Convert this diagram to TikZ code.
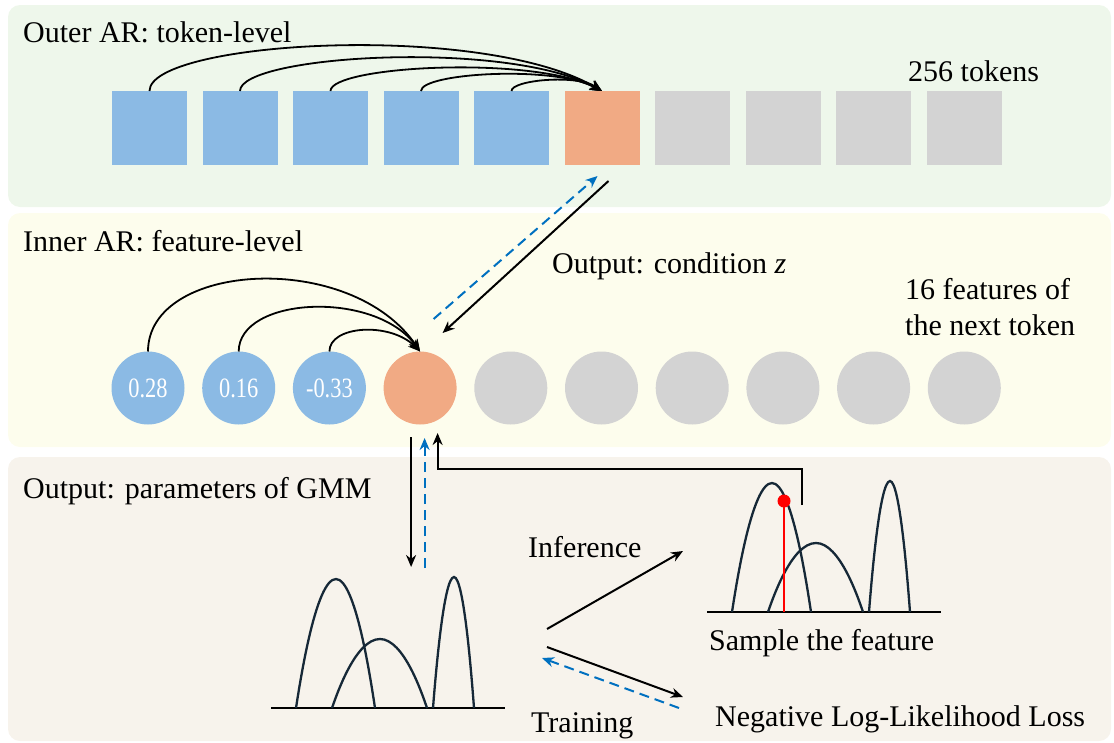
\documentclass[tikz,border=0pt]{standalone}
\usepackage{fontspec}
\setmainfont{Liberation Serif}
\usetikzlibrary{arrows.meta,calc}
\definecolor{pgreen}{RGB}{238,247,235}
\definecolor{pyellow}{RGB}{253,253,237}
\definecolor{pbeige}{RGB}{247,243,236}
\definecolor{tblue}{RGB}{139,186,228}
\definecolor{torange}{RGB}{241,170,132}
\definecolor{tgrey}{RGB}{211,211,211}
\definecolor{dblue}{RGB}{0,112,192}
\definecolor{navy}{RGB}{22,40,55}
\begin{document}
\begin{tikzpicture}[x=1pt,y=-1pt,
  panel/.style={rounded corners=12pt},
  sq/.style={minimum width=75pt,minimum height=74pt,inner sep=0pt,outer sep=0pt},
  ci/.style={circle,minimum size=73pt,inner sep=0pt,outer sep=0pt,text=white,font=\fontsize{28}{30}\selectfont},
  lbl/.style={font=\fontsize{30}{34}\selectfont,inner sep=0pt,anchor=base west},
  arcarrow/.style={line width=1.8pt,-{Stealth[length=12pt,width=10pt]}},
  blk/.style={line width=2pt,-{Stealth[length=12pt,width=10pt]}},
  dsh/.style={dblue,line width=2pt,dash pattern=on 10pt off 6pt,-{Stealth[length=12pt,width=10pt]}},
  gmm/.style={navy,line width=2.3pt},
  baseln/.style={line width=2.2pt}]
\useasboundingbox (0,0) rectangle (1114,742);
% panels
\fill[pgreen,panel] (8,5) rectangle (1111,207);
\fill[pyellow,panel] (8,213) rectangle (1111,447);
\fill[pbeige,panel] (8,457) rectangle (1111,741);
% tokens
\foreach \i/\c in {1/tblue,2/tblue,3/tblue,4/tblue,5/tblue,6/torange,7/tgrey,8/tgrey,9/tgrey,10/tgrey}
  \node[sq,fill=\c] (t\i) at ({149.5+90.5*(\i-1)},128) {};
\draw[arcarrow] (t1.north) .. controls +(0,-50) and +(-120,-70) .. (t6.north);
\draw[arcarrow] (t2.north) .. controls +(0,-36) and +(-95,-52) .. (t6.north);
\draw[arcarrow] (t3.north) .. controls +(0,-25) and +(-70,-36) .. (t6.north);
\draw[arcarrow] (t4.north) .. controls +(0,-18) and +(-48,-26) .. (t6.north);
\draw[arcarrow] (t5.north) .. controls +(0,-11) and +(-25,-17) .. (t6.north);
% features
\foreach \i/\c/\t in {1/tblue/0.28,2/tblue/0.16,3/tblue/-0.33,4/torange/,5/tgrey/,6/tgrey/,7/tgrey/,8/tgrey/,9/tgrey/,10/tgrey/}
  \node[ci,fill=\c] (f\i) at ({148+90.7*(\i-1)},388) {\scalebox{0.8}[1]{\t}};
\draw[arcarrow] (f1.north) .. controls +(0,-90) and +(-69,-102) .. (f4.north);
\draw[arcarrow] (f2.north) .. controls +(0,-55) and +(-45,-62) .. (f4.north);
\draw[arcarrow] (f3.north) .. controls +(0,-26) and +(-30,-30) .. (f4.north);
% labels
\node[lbl] (ttl1) at (23,42.5) {Outer AR: token-level};
\node[lbl] (ntok) at (908,81) {256 tokens};
\node[lbl] (ttl2) at (23,251) {Inner AR: feature-level};
\node[lbl] (cond) at (552,273) {Output: condition \textit{z}};
\node[lbl] (nf1) at (905,299) {16 features of};
\node[lbl] (nf2) at (905,335) {the next token};
\node[lbl] (ttl3) at (23,498) {Output: parameters of GMM};
\node[lbl] (inf) at (528,557.5) {Inference};
\node[lbl] (trn) at (531,732) {Training};
\node[lbl] (smpl) at (709,650.5) {Sample the feature};
\node[lbl] (nll) at (715,726) {Negative Log-Likelihood Loss};
% token <-> feature
\draw[blk] ($(t6.south)+(6.5,16)$) -- ($(f4.north)+(22.5,-18.5)$);
\draw[dsh] ($(f4.north)+(13.5,-32.5)$) -- ($(t6.south)+(-4.5,11)$);
% feature <-> GMM
\draw[blk] ($(f4.south)+(-9,12.5)$) -- ($(f4.south)+(-9,142.5)$);
\draw[dsh] ($(f4.south)+(4.5,143.5)$) -- ($(f4.south)+(4.5,13.5)$);
\coordinate (fb) at (802,505);
\draw[blk] (fb) -- ++(0,-36) -| ($(f4.south)+(17.5,8.5)$);
% GMM plot left
\draw[baseln] (271,708) -- (505,708);
\draw[gmm] (296,708) parabola bend (336,579) (375,708);
\draw[gmm] (332,708) parabola bend (380,639) (427,708);
\draw[gmm] (433,708) parabola bend (454,577) (474,708);
% GMM plot right
\begin{scope}[shift={(436,-96)}]
\draw[baseln] (271,708) -- (505,708);
\draw[gmm] (296,708) parabola bend (336,579) (375,708);
\draw[gmm] (332,708) parabola bend (380,639) (427,708);
\draw[gmm] (433,708) parabola bend (454,577) (474,708);
\end{scope}
\draw[red,line width=2pt] (784,612) -- (784,501);
\fill[red] (784,501) circle (6.5pt);
% inference / training
\coordinate (ia) at (547,629); \coordinate (ib) at (683,551);
\draw[blk] (ia) -- (ib);
\coordinate (ta) at (547,647); \coordinate (tb) at (683,697);
\draw[blk] (ta) -- (tb);
\coordinate (da) at (679,708); \coordinate (db) at (542,658);
\draw[dsh] (da) -- (db);
\end{tikzpicture}
\end{document}
